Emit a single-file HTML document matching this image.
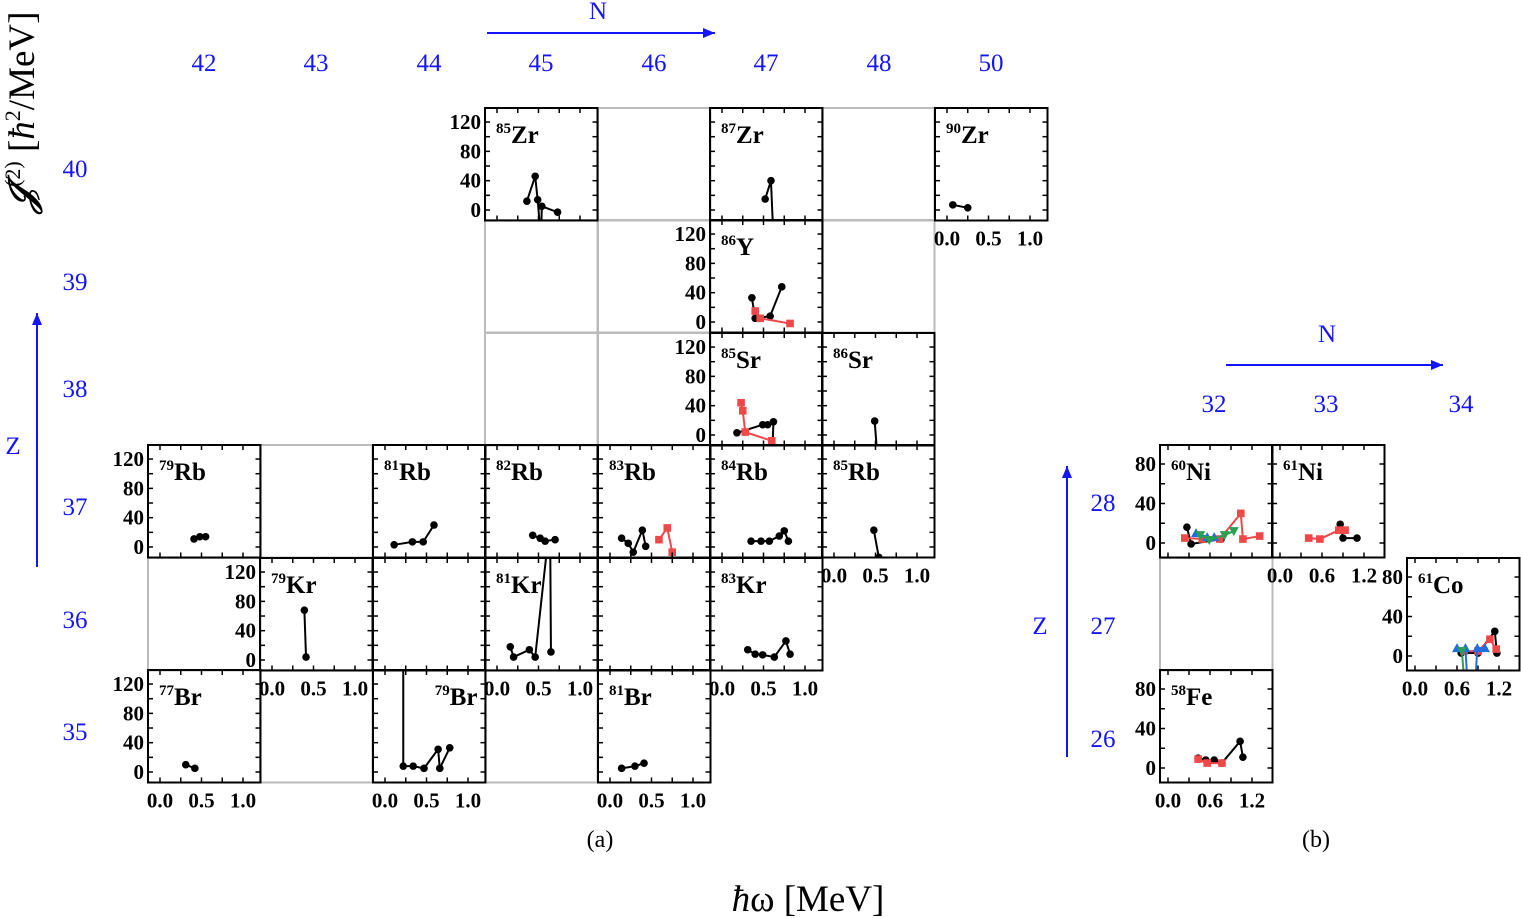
<!DOCTYPE html>
<html><head><meta charset="utf-8">
<style>
html,body{margin:0;padding:0;background:#fff;}
svg{display:block;}
text{font-family:"Liberation Serif",serif;}
</style></head>
<body>
<svg id="s" width="1521" height="918" xmlns="http://www.w3.org/2000/svg">
<g id="g"></g>
</svg>
<script>
let out="";
function L(x1,y1,x2,y2,c,w){out+=`<line x1="${x1}" y1="${y1}" x2="${x2}" y2="${y2}" stroke="${c}" stroke-width="${w}"/>`;}
function T(x,y,s,o){o=o||{};out+=`<text x="${x}" y="${y}" font-size="${o.fs||20}" font-weight="${o.fw||'normal'}" fill="${o.c||'#000'}" text-anchor="${o.a||'middle'}" ${o.extra||''}>${s}</text>`;}
const BLUE="#1414ff";
const gray=[[598,108],[822,108],[485,220],[598,220],[822,220],[485,333],[598,333],[260,445],[148,558],[485,670],[260,670],[1160,558]];
gray.forEach(([x,y])=>{out+=`<rect x="${x}" y="${y}" width="112.5" height="112.5" fill="none" stroke="#bbb" stroke-width="2"/>`;});
function frame(x,y,w,h,cfg){
  for(let v=cfg.xt0; v<=cfg.xt1+1e-9; v+=cfg.xtd){const px=x+cfg.x0+v*cfg.xk; if(px<=x+1||px>=x+w-1)continue; L(px,y+h,px,y+h-5,"#000",1.5); L(px,y,px,y+5,"#000",1.5);}
  for(let v=cfg.yt0; v<=cfg.yt1+1e-9; v+=cfg.ytd){const py=y+cfg.y0-v*cfg.yk; if(py<=y+1||py>=y+h-1)continue; L(x,py,x+5,py,"#000",1.5); L(x+w,py,x+w-5,py,"#000",1.5);}
  out+=`<rect x="${x}" y="${y}" width="${w}" height="${h}" fill="none" stroke="#000" stroke-width="2"/>`;
}
let cid=0;
function series(x,y,w,h,cfg,pts,color,marker){
  const id="c"+(cid++);
  out+=`<clipPath id="${id}"><rect x="${x}" y="${y}" width="${w}" height="${h}"/></clipPath><g clip-path="url(#${id})">`;
  const P=pts.map(([a,b])=>[x+cfg.x0+a*cfg.xk, y+cfg.y0-b*cfg.yk]);
  out+=`<polyline points="${P.map(p=>p.join(',')).join(' ')}" fill="none" stroke="${color}" stroke-width="2"/>`;
  pts.forEach((p,i)=>{if(p[2])return;const [px,py]=P[i];
    if(marker=="o")out+=`<circle cx="${px}" cy="${py}" r="3.8" fill="${color}"/>`;
    else if(marker=="s")out+=`<rect x="${px-3.8}" y="${py-3.8}" width="7.6" height="7.6" fill="${color}"/>`;
    else if(marker=="^")out+=`<polygon points="${px},${py-5} ${px-5},${py+4} ${px+5},${py+4}" fill="${color}"/>`;
    else if(marker=="v")out+=`<polygon points="${px},${py+5} ${px-5},${py-4} ${px+5},${py-4}" fill="${color}"/>`;
  });
  out+=`</g>`;
}
const A={x0:12,xk:83,xt0:-0.25,xt1:1.5,xtd:0.25,y0:102,yk:0.733,yt0:-20,yt1:160,ytd:20};
const B={x0:8,xk:70,xt0:-0.3,xt1:1.8,xtd:0.3,y0:98,yk:0.9875,yt0:-20,yt1:120,ytd:20};
const RED="#f04848",BL="#1f6fe0",GR="#2aa050";
function panel(cx,cy,name,sup,opt,data,cfg){
  cfg=cfg||A;const w=112.5,h=112.5;
  (data||[]).forEach(d=>series(cx,cy,w,h,cfg,d[0],d[1],d[2]));
  frame(cx,cy,w,h,cfg);
  opt=opt||{};
  if(name){
    const lx=opt.right?cx+w-8:cx+11; const anc=opt.right?'end':'start';
    out+=`<text x="${lx}" y="${cy+35}" font-size="25" font-weight="bold" text-anchor="${anc}"><tspan font-size="15" dy="-10">${sup}</tspan><tspan dy="10">${name}</tspan></text>`;
  }
  if(opt.yl){const vals=cfg===A?[0,40,80,120]:[0,40,80];vals.forEach(v=>T(cx-4,cy+cfg.y0-v*cfg.yk+7,v,{fs:21,fw:'bold',a:'end'}));}
  if(opt.xl){const vals=cfg===A?[[0,'0.0'],[0.5,'0.5'],[1,'1.0']]:[[0,'0.0'],[0.6,'0.6'],[1.2,'1.2']];vals.forEach(([v,s])=>T(cx+cfg.x0+v*cfg.xk,cy+h+25,s,{fs:21,fw:'bold'}));}
}
const K="#000";
panel(485,108,"Zr","85",{yl:1},[[[[0.36,12],[0.46,46],[0.49,14],[0.53,-40,1],[0.54,5],[0.73,-3]],K,"o"]]);
panel(710,108,"Zr","87",{},[[[[0.52,15],[0.59,40],[0.62,-40,1]],K,"o"]]);
panel(935,108,"Zr","90",{xl:1},[[[[0.07,7],[0.25,3]],K,"o"]]);
panel(710,220,"Y","86",{yl:1},[[[[0.36,33],[0.40,5],[0.58,8],[0.72,48]],K,"o"],[[[0.40,15],[0.46,5],[0.82,-2]],RED,"s"]]);
panel(710,333,"Sr","85",{yl:1},[[[[0.18,3],[0.49,14],[0.55,14],[0.62,18],[0.60,-40,1]],K,"o"],[[[0.23,44],[0.25,33],[0.28,4],[0.60,-8]],RED,"s"]]);
panel(822,333,"Sr","86",{},[[[[0.49,19],[0.53,-40,1]],K,"o"]]);
panel(148,445,"Rb","79",{yl:1},[[[[0.41,11],[0.48,14],[0.55,14]],K,"o"]]);
panel(373,445,"Rb","81",{},[[[[0.11,3],[0.33,7],[0.46,7],[0.59,30]],K,"o"]]);
panel(485,445,"Rb","82",{},[[[[0.43,16],[0.52,12],[0.58,8],[0.70,10]],K,"o"]]);
panel(598,445,"Rb","83",{},[[[[0.14,12],[0.22,5],[0.28,-7],[0.39,23],[0.43,1]],K,"o"],[[[0.59,10],[0.69,26],[0.75,-7],[0.74,-40,1]],RED,"s"]]);
panel(710,445,"Rb","84",{},[[[[0.35,8],[0.47,8],[0.57,8],[0.69,15],[0.75,22],[0.80,8]],K,"o"]]);
panel(822,445,"Rb","85",{xl:1},[[[[0.48,23],[0.54,-14]],K,"o"]]);
panel(260,558,"Kr","79",{yl:1,xl:1},[[[[0.39,68],[0.41,4]],K,"o"]]);
panel(373,558,null,"",{});
panel(485,558,"Kr","81",{xl:1},[[[[0.16,18],[0.20,4],[0.39,14],[0.46,4],[0.63,180,1],[0.64,180,1],[0.65,11]],K,"o"]]);
panel(598,558,null,"",{});
panel(710,558,"Kr","83",{xl:1},[[[[0.31,14],[0.40,8],[0.49,7],[0.63,4],[0.77,26],[0.82,8]],K,"o"]]);
panel(148,670,"Br","77",{yl:1,xl:1},[[[[0.31,10],[0.42,5]],K,"o"]]);
panel(373,670,"Br","79",{right:1,xl:1},[[[[0.22,180,1],[0.22,8],[0.34,8],[0.47,5],[0.64,31],[0.66,5],[0.78,33]],K,"o"]]);
panel(598,670,"Br","81",{xl:1},[[[[0.14,5],[0.30,8],[0.41,12]],K,"o"]]);
panel(1160,445,"Ni","60",{yl:1},[
 [[[0.27,16],[0.33,-1],[0.76,4]],K,"o"],
 [[[0.24,5],[0.49,4],[0.74,4],[1.04,30],[1.07,4],[1.31,7]],RED,"s"],
 [[[0.40,10],[0.56,6],[0.66,6]],BL,"^"],
 [[[0.46,8],[0.59,3],[0.81,8],[0.94,12]],GR,"v"]],B);
panel(1272,445,"Ni","61",{xl:1},[
 [[[0.86,19],[0.90,5],[1.10,5]],K,"o"],
 [[[0.41,5],[0.57,4],[0.84,13],[0.93,13]],RED,"s"]],B);
panel(1407,558,"Co","61",{yl:1,xl:1},[
 [[[0.66,3],[0.90,3],[1.14,25],[1.17,3]],K,"o"],
 [[[0.70,5],[0.90,5],[1.07,17],[1.16,7]],RED,"s"],
 [[[0.60,8],[0.72,8],[0.76,-40,1],[0.85,-40,1],[0.89,8],[1.0,8]],BL,"^"],
 [[[0.67,5],[0.72,-40,1],[0.92,-16,1]],GR,"v"]],B);
panel(1160,670,"Fe","58",{yl:1,xl:1},[
 [[[0.43,10],[0.54,8],[0.66,8],[0.77,5],[1.03,27],[1.07,11]],K,"o"],
 [[[0.43,9],[0.56,5],[0.77,5]],RED,"s"]],B);
[[204,42],[316,43],[429,44],[541,45],[654,46],[766,47],[879,48],[991,50]].forEach(([x,s])=>T(x,71,s,{fs:25,c:BLUE}));
[[168,40],[281,39],[388,38],[506,37],[619,36],[731,35]].forEach(([y,s])=>T(75,y+9,s,{fs:25,c:BLUE}));
[[1214,32],[1326,33],[1461,34]].forEach(([x,s])=>T(x,412,s,{fs:25,c:BLUE}));
[[502,28],[625,27],[738,26]].forEach(([y,s])=>T(1103,y+9,s,{fs:25,c:BLUE}));
function arrow(x1,y1,x2,y2){L(x1,y1,x2,y2,BLUE,2);const a=Math.atan2(y2-y1,x2-x1),l=12,s=5;
 const bx=x2-l*Math.cos(a),by=y2-l*Math.sin(a);
 out+=`<polygon points="${x2},${y2} ${bx+s*Math.sin(a)},${by-s*Math.cos(a)} ${bx-s*Math.sin(a)},${by+s*Math.cos(a)}" fill="${BLUE}"/>`;}
arrow(487,33,715,33);T(598,19,"N",{fs:25,c:BLUE});
arrow(37,567,37,313);T(13,454,"Z",{fs:25,c:BLUE});
arrow(1226,365,1443,365);T(1327,342,"N",{fs:25,c:BLUE});
arrow(1067,757,1067,466);T(1040,634,"Z",{fs:25,c:BLUE});
T(600,847,"(a)",{fs:24});T(1316,847,"(b)",{fs:24});
T(808,911,"<tspan font-style='italic'>ħ</tspan>ω [MeV]",{fs:37});
out+=`<text transform="translate(34,112) rotate(-90)" font-size="37" text-anchor="middle"><tspan font-style="italic" font-weight="bold">𝒥</tspan><tspan font-size="22" dy="-14">(2)</tspan><tspan dy="14"> [</tspan><tspan font-style="italic">ħ</tspan><tspan font-size="22" dy="-14">2</tspan><tspan dy="14">/MeV]</tspan></text>`;
document.getElementById("g").innerHTML=out;
</script>
</body></html>
